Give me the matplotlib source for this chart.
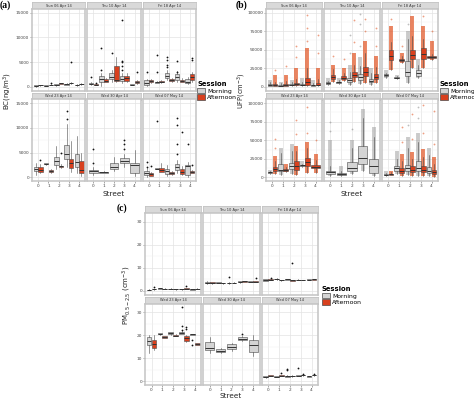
import matplotlib
matplotlib.use("Agg")
import matplotlib.pyplot as plt
from matplotlib.patches import Patch

W, H = 474, 399

days = ["Sun 06 Apr 14", "Thu 10 Apr 14", "Fri 18 Apr 14",
        "Wed 23 Apr 14", "Wed 30 Apr 14", "Wed 07 May 14"]
streets = [0, 1, 2, 3, 4]

# box stats per street: (whisker low, q1, median, q3, whisker high), None = no data
# ---- (a) BC ----
bc_morning = {
    "Sun 06 Apr 14": [(50, 100, 200, 300, 400), (100, 200, 250, 300, 450), (200, 300, 400, 500, 600),
                      (300, 400, 500, 600, 800), (200, 300, 350, 450, 600)],
    "Thu 10 Apr 14": [(400, 500, 600, 700, 900), (200, 1000, 1500, 2200, 2800), (1000, 1500, 2000, 2800, 3500),
                      (800, 1200, 1500, 2200, 2800), (300, 380, 450, 520, 600)],
    "Fri 18 Apr 14": [(100, 400, 800, 1400, 1600), (700, 800, 900, 1000, 1200), (1400, 1800, 2200, 2800, 3500),
                      (1000, 1400, 1900, 2600, 3200), (500, 700, 1000, 1500, 2000)],
    "Wed 23 Apr 14": [(400, 1200, 1600, 2000, 2800), (2500, 2600, 2700, 2800, 2900), (1600, 2400, 3300, 4200, 6300),
                      (2000, 3700, 4700, 6500, 10800), (800, 2000, 3100, 4800, 8300)],
    "Wed 30 Apr 14": [(400, 900, 1200, 1500, 2000), (850, 900, 1000, 1100, 1200), (1200, 1700, 2000, 2800, 4200),
                      (2000, 2800, 3300, 4000, 4800), (300, 800, 2400, 2800, 5600)],
    "Wed 07 May 14": [(100, 400, 800, 1200, 1800), (1650, 1700, 1750, 1800, 1850), (200, 700, 1200, 1700, 2500),
                      (800, 1400, 2000, 2700, 3500), (100, 400, 2200, 2500, 3000)],
}
bc_afternoon = {
    "Sun 06 Apr 14": [(250, 300, 350, 400, 450), (300, 350, 400, 450, 550), (500, 600, 700, 750, 850),
                      (600, 700, 800, 850, 950), (450, 500, 600, 650, 750)],
    "Thu 10 Apr 14": [(300, 350, 400, 500, 600), (900, 1000, 1200, 1500, 1700), (1000, 1200, 1400, 4200, 6000),
                      (900, 1100, 1700, 2200, 2700), (600, 800, 1000, 1200, 1400)],
    "Fri 18 Apr 14": [(800, 1000, 1200, 1400, 1600), (800, 900, 1000, 1100, 1300), (900, 1100, 1300, 1500, 1800),
                      (900, 1000, 1200, 1400, 1700), (1000, 1300, 2000, 2600, 3000)],
    "Wed 23 Apr 14": [(800, 1100, 1500, 2000, 2600), (900, 1000, 1200, 1500, 1700), (1800, 2000, 2200, 2300, 2600),
                      (1000, 1800, 2800, 3700, 7300), (300, 900, 1400, 3400, 5000)],
    "Wed 30 Apr 14": [None, None, None, None, None],
    "Wed 07 May 14": [(200, 300, 600, 800, 1000), (1000, 1000, 1500, 1900, 2900), (500, 600, 800, 1000, 1200),
                      (500, 600, 1100, 1700, 2300), (800, 900, 1100, 1300, 1500)],
}
bc_out_morning = {
    ("Thu 10 Apr 14", 0): [2000], ("Thu 10 Apr 14", 1): [3500, 7800], ("Thu 10 Apr 14", 2): [6800],
    ("Thu 10 Apr 14", 3): [3400, 4200, 5000, 5200, 13500],
    ("Fri 18 Apr 14", 0): [3000], ("Fri 18 Apr 14", 1): [3000, 6400],
    ("Fri 18 Apr 14", 2): [4000, 4500, 5500, 6000], ("Fri 18 Apr 14", 3): [3000, 5200],
    ("Wed 23 Apr 14", 3): [11800, 13400],
    ("Wed 30 Apr 14", 0): [2800, 5800], ("Wed 30 Apr 14", 3): [5800, 6800, 7500],
    ("Wed 07 May 14", 0): [2000, 3000], ("Wed 07 May 14", 1): [11400],
    ("Wed 07 May 14", 3): [4700, 6700, 10500, 12000], ("Wed 07 May 14", 4): [6700],
}
bc_out_afternoon = {
    ("Sun 06 Apr 14", 1): [800], ("Sun 06 Apr 14", 3): [5000],
    ("Thu 10 Apr 14", 0): [800], ("Thu 10 Apr 14", 4): [3000],
    ("Fri 18 Apr 14", 4): [5500, 5800],
    ("Wed 23 Apr 14", 0): [3500], ("Wed 23 Apr 14", 2): [5000],
    ("Wed 07 May 14", 0): [2300], ("Wed 07 May 14", 3): [9100], ("Wed 07 May 14", 4): [2400],
}

# ---- (b) UFP ----
ufp_morning = {
    "Sun 06 Apr 14": [(500, 1500, 2500, 3500, 6000), (500, 1000, 1500, 2500, 4500), (800, 2000, 2800, 3500, 6000),
                      (800, 2000, 3000, 4000, 7000), (500, 1500, 2200, 3000, 5500)],
    "Thu 10 Apr 14": [(2500, 4000, 5000, 6000, 8000), (4000, 5000, 6000, 7000, 9000), (3000, 6000, 9000, 12000, 20000),
                      (4000, 9000, 13000, 17000, 28000), (3000, 6000, 8000, 11000, 18000)],
    "Fri 18 Apr 14": [(12000, 14500, 15500, 17000, 19000), (11000, 12000, 12500, 13500, 14500),
                      (5000, 15000, 20000, 35000, 65000), (12000, 15000, 18000, 22000, 30000), None],
    "Wed 23 Apr 14": [(5000, 6000, 6500, 7000, 8000), (3000, 8000, 10000, 18000, 33000),
                      (5000, 11000, 15000, 19000, 35000), (14000, 15000, 16000, 17000, 18000), None],
    "Wed 30 Apr 14": [(2000, 5000, 7000, 9000, 15000), (2000, 3000, 4500, 6000, 8000), (4000, 9000, 12000, 21000, 40000),
                      (8000, 18000, 26000, 42000, 80000), (2000, 6000, 15000, 25000, 55000)],
    "Wed 07 May 14": [(2000, 3000, 3500, 4500, 6000), (4000, 8000, 12000, 15000, 25000), (3000, 9000, 12000, 16000, 40000),
                      (2000, 9000, 12000, 22000, 48000), (2000, 6000, 9000, 14000, 30000)],
}
ufp_afternoon = {
    "Sun 06 Apr 14": [(500, 1500, 2500, 3500, 7000), (500, 1500, 2500, 4000, 8000), (500, 2000, 3500, 5000, 10000),
                      (500, 3000, 6000, 12000, 25000), (500, 2000, 3000, 5000, 10000)],
    "Thu 10 Apr 14": [(6000, 10000, 13000, 16000, 24000), (8000, 11000, 12500, 14000, 18000),
                      (6000, 13000, 16000, 20000, 30000), (5000, 14000, 20000, 27000, 45000),
                      (5000, 10000, 13000, 17000, 27000)],
    "Fri 18 Apr 14": [(22000, 36000, 42000, 50000, 60000), (32000, 35000, 36500, 38000, 42000),
                      (25000, 38000, 43000, 50000, 68000), (25000, 38000, 44000, 52000, 65000),
                      (36000, 39000, 40000, 41000, 44000)],
    "Wed 23 Apr 14": [(4000, 8000, 11000, 14000, 22000), (7000, 8000, 9500, 11000, 14000),
                      (3000, 10000, 15000, 22000, 35000), (6000, 15000, 20000, 26000, 40000),
                      (6000, 12000, 14000, 17000, 24000)],
    "Wed 30 Apr 14": [None, None, None, None, None],
    "Wed 07 May 14": [(2500, 3500, 4000, 5000, 6500), (2000, 6000, 9000, 13000, 22000), (2000, 7000, 10000, 15000, 25000),
                      (2000, 7000, 10000, 15000, 28000), (1000, 4000, 7000, 10000, 18000)],
}
# top of the dense run of outliers above each whisker
ufp_dense_morning = {
    "Sun 06 Apr 14": [9000, 7000, 9000, 12000, 9000],
    "Thu 10 Apr 14": [12000, 12000, 30000, 40000, 25000],
    "Fri 18 Apr 14": [22000, 16000, 75000, 38000, None],
    "Wed 23 Apr 14": [10000, 40000, 45000, 22000, None],
    "Wed 30 Apr 14": [50000, 15000, 50000, 92000, 68000],
    "Wed 07 May 14": [8000, 35000, 55000, 60000, 40000],
}
ufp_dense_afternoon = {
    "Sun 06 Apr 14": [16000, 16000, 26000, 52000, 26000],
    "Thu 10 Apr 14": [30000, 26000, 46000, 62000, 42000],
    "Fri 18 Apr 14": [82000, 46000, 96000, 82000, 62000],
    "Wed 23 Apr 14": [29000, 18000, 42000, 48000, 32000],
    "Wed 30 Apr 14": [None, None, None, None, None],
    "Wed 07 May 14": [9000, 32000, 34000, 38000, 27000],
}
ufp_out_morning = {
    ("Thu 10 Apr 14", 2): [45000, 70000], ("Thu 10 Apr 14", 3): [55000, 85000, 98000],
    ("Fri 18 Apr 14", 2): [85000],
    ("Wed 30 Apr 14", 0): [62000, 75000], ("Wed 30 Apr 14", 2): [65000],
    ("Wed 07 May 14", 2): [70000], ("Wed 07 May 14", 3): [80000, 95000],
}
ufp_out_afternoon = {
    ("Sun 06 Apr 14", 0): [22000], ("Sun 06 Apr 14", 1): [28000], ("Sun 06 Apr 14", 2): [40000, 55000],
    ("Sun 06 Apr 14", 3): [62000, 80000, 97000], ("Sun 06 Apr 14", 4): [45000, 70000],
    ("Thu 10 Apr 14", 0): [42000], ("Thu 10 Apr 14", 1): [38000], ("Thu 10 Apr 14", 2): [60000, 90000],
    ("Thu 10 Apr 14", 3): [75000, 92000], ("Thu 10 Apr 14", 4): [55000, 80000],
    ("Fri 18 Apr 14", 0): [92000], ("Fri 18 Apr 14", 1): [55000], ("Fri 18 Apr 14", 3): [95000],
    ("Fri 18 Apr 14", 4): [75000],
    ("Wed 23 Apr 14", 0): [40000, 52000], ("Wed 23 Apr 14", 2): [58000, 78000],
    ("Wed 23 Apr 14", 3): [60000, 95000], ("Wed 23 Apr 14", 4): [50000],
    ("Wed 07 May 14", 1): [48000, 68000], ("Wed 07 May 14", 2): [52000, 85000],
    ("Wed 07 May 14", 3): [60000, 98000], ("Wed 07 May 14", 4): [45000, 90000],
}

# ---- (c) PM 0.5-2.5 ----
pm_morning = {
    "Sun 06 Apr 14": [(0.1, 0.2, 0.3, 0.4, 0.6), (0.8, 0.9, 1.0, 1.1, 1.2), (0.6, 0.7, 0.8, 0.9, 1.0),
                      (0.4, 0.5, 0.6, 0.7, 0.8), (0.3, 0.4, 0.5, 0.6, 0.7)],
    "Thu 10 Apr 14": [(3.0, 3.3, 3.5, 3.8, 4.0), (3.3, 3.4, 3.5, 3.6, 3.7), (3.0, 3.2, 3.3, 3.5, 3.7),
                      (3.5, 3.7, 3.8, 4.0, 4.2), (3.7, 3.8, 3.9, 4.0, 4.1)],
    "Fri 18 Apr 14": [(4.0, 4.2, 4.5, 4.9, 5.2), (4.7, 4.9, 5.0, 5.1, 5.3), (4.6, 4.8, 4.9, 5.0, 5.2),
                      (4.4, 4.5, 4.6, 4.7, 4.9), (4.6, 4.7, 4.8, 4.9, 5.0)],
    "Wed 23 Apr 14": [(12.0, 15.5, 17.5, 19.0, 20.0), (20.2, 20.3, 20.5, 20.7, 20.8), (20.0, 20.3, 20.7, 21.2, 21.5),
                      (20.3, 20.6, 21.0, 21.4, 21.8), (20.1, 20.2, 20.3, 20.4, 20.5)],
    "Wed 30 Apr 14": [(12.0, 13.5, 14.5, 17.0, 19.0), (12.0, 12.8, 13.2, 13.8, 14.5), (13.0, 13.8, 14.8, 16.0, 16.5),
                      (17.5, 18.0, 18.4, 19.0, 19.5), (11.0, 12.5, 15.8, 17.8, 20.0)],
    "Wed 07 May 14": [(1.5, 1.6, 1.8, 2.0, 2.1), (1.7, 1.8, 1.9, 2.0, 2.1), (1.8, 1.9, 2.1, 2.3, 2.5),
                      (2.0, 2.1, 2.3, 2.5, 2.7), (1.8, 1.9, 2.0, 2.1, 2.2)],
}
pm_afternoon = {
    "Sun 06 Apr 14": [(0.4, 0.5, 0.6, 0.7, 0.8), (0.6, 0.7, 0.8, 0.9, 1.0), (0.4, 0.5, 0.6, 0.7, 0.8),
                      (0.6, 0.8, 0.9, 1.0, 1.2), (0.6, 0.7, 0.8, 0.9, 1.0)],
    "Thu 10 Apr 14": [(3.0, 3.2, 3.4, 3.6, 3.8), (3.0, 3.1, 3.2, 3.3, 3.4), (3.1, 3.3, 3.4, 3.5, 3.7),
                      (3.7, 3.9, 4.0, 4.1, 4.3), (3.7, 3.8, 3.9, 4.0, 4.1)],
    "Fri 18 Apr 14": [(4.5, 4.7, 4.8, 4.9, 5.1), (4.2, 4.4, 4.5, 4.6, 4.8), (4.1, 4.3, 4.4, 4.5, 4.7),
                      (4.4, 4.5, 4.6, 4.7, 4.8), (4.7, 4.8, 4.9, 5.0, 5.1)],
    "Wed 23 Apr 14": [(13.5, 14.5, 16.0, 18.0, 20.0), (18.6, 18.8, 19.0, 19.4, 19.6), (19.4, 19.6, 19.8, 20.1, 20.3),
                      (17.0, 17.5, 18.5, 19.5, 20.0), (15.7, 15.8, 16.0, 16.4, 16.6)],
    "Wed 30 Apr 14": [None, None, None, None, None],
    "Wed 07 May 14": [(2.0, 2.1, 2.3, 2.5, 2.6), (2.2, 2.3, 2.4, 2.5, 2.6), (1.9, 2.0, 2.2, 2.4, 2.5),
                      (2.4, 2.5, 2.6, 2.7, 2.8), (2.4, 2.5, 2.6, 2.7, 2.8)],
}
pm_out_morning = {
    ("Thu 10 Apr 14", 2): [6.0],
    ("Wed 23 Apr 14", 3): [22.0, 24.0, 32.0], ("Wed 23 Apr 14", 4): [15.5, 18.0],
    ("Wed 30 Apr 14", 3): [20.5],
    ("Wed 07 May 14", 2): [4.6, 5.3], ("Wed 07 May 14", 3): [5.7],
}
pm_out_afternoon = {
    ("Sun 06 Apr 14", 0): [1.6], ("Sun 06 Apr 14", 3): [1.8],
    ("Thu 10 Apr 14", 4): [5.6],
    ("Fri 18 Apr 14", 0): [5.5], ("Fri 18 Apr 14", 2): [12.0],
    ("Wed 23 Apr 14", 3): [22.5, 23.5],
    ("Wed 07 May 14", 1): [3.3], ("Wed 07 May 14", 3): [3.0], ("Wed 07 May 14", 4): [3.0],
}

GREY = "#d4d4d4"
RED = "#d8401e"
EDGE = "#4a4a4a"


def fx(x):
    return x / W


def fy(y):
    return 1 - y / H


def draw_panel(fig, box, morning, afternoon, out_m, out_a, ylim, yticks, yminor,
               dense_m=None, dense_a=None, flier_m="#111111", flier_a="#111111", flier_alpha=1.0):
    left, right, top, bottom = box
    strip_h, gap = 7, 2
    cw = (right - left - 2 * gap) / 3
    rh = (bottom - top - gap) / 2
    for i, day in enumerate(days):
        r, c = divmod(i, 3)
        x0 = left + c * (cw + gap)
        y0 = top + r * (rh + gap)
        # facet strip
        sax = fig.add_axes([fx(x0), fy(y0 + strip_h), cw / W, strip_h / H])
        sax.set_facecolor("#d9d9d9")
        sax.set_xticks([])
        sax.set_yticks([])
        for sp in sax.spines.values():
            sp.set_color("#c4c4c4")
            sp.set_linewidth(0.6)
        sax.text(0.5, 0.5, day, ha="center", va="center", fontsize=2.6, color="#333333",
                 transform=sax.transAxes)

        ax = fig.add_axes([fx(x0), fy(y0 + rh), cw / W, (rh - strip_h) / H])
        ax.set_xlim(-0.6, 4.6)
        ax.set_ylim(*ylim)
        ax.set_xticks(streets)
        ax.set_yticks(yticks)
        ax.set_yticks(yminor, minor=True)
        ax.grid(which="major", color="#e3e3e3", linewidth=0.5)
        ax.grid(which="minor", axis="y", color="#f0f0f0", linewidth=0.3)
        ax.set_axisbelow(True)
        for sp in ax.spines.values():
            sp.set_color("#c4c4c4")
            sp.set_linewidth(1.1)

        for s in streets:
            m = morning[day][s]
            a = afternoon[day][s]
            both = m is not None and a is not None
            for st, col, outs, dense, fc in ((m, GREY, out_m, dense_m, flier_m),
                                             (a, RED, out_a, dense_a, flier_a)):
                if st is None:
                    continue
                if both:
                    pos = s - 0.225 if col == GREY else s + 0.225
                    wid = 0.43
                else:
                    pos, wid = s, 0.86
                if dense is not None and dense[day][s] is not None:
                    ax.vlines(pos, st[0], dense[day][s], colors=fc, linewidth=2.8,
                              alpha=0.45 if col == GREY else 0.7, zorder=1.5)
                stats = dict(whislo=st[0], q1=st[1], med=st[2], q3=st[3], whishi=st[4],
                             fliers=outs.get((day, s), []))
                ax.bxp([stats], positions=[pos], widths=[wid], patch_artist=True,
                       showcaps=False, manage_ticks=False,
                       boxprops=dict(facecolor=col, edgecolor=EDGE, linewidth=0.4),
                       medianprops=dict(color="#333333", linewidth=0.7),
                       whiskerprops=dict(color=EDGE, linewidth=0.4),
                       flierprops=dict(marker="o", markersize=1.3, markerfacecolor=fc,
                                       markeredgecolor="none", alpha=flier_alpha))

        ax.tick_params(which="both", length=1.2, width=0.4, color="#666666",
                       labelsize=3.1, labelcolor="#444444", pad=1)
        ax.tick_params(which="minor", length=0)
        if c != 0:
            ax.tick_params(axis="y", length=0, labelleft=False)
        if r != 1:
            ax.tick_params(axis="x", length=0, labelbottom=False)


def add_legend(fig, x, y):
    handles = [Patch(facecolor=GREY, edgecolor=EDGE, linewidth=0.5, label="Morning"),
               Patch(facecolor=RED, edgecolor=EDGE, linewidth=0.5, label="Afternoon")]
    leg = fig.legend(handles=handles, loc="upper left", bbox_to_anchor=(fx(x), fy(y)),
                     frameon=False, title="Session", fontsize=4.4, title_fontsize=4.9,
                     handlelength=1.3, handleheight=0.9, borderpad=0, borderaxespad=0,
                     handletextpad=0.35, labelspacing=0.15, alignment="left")
    leg.get_title().set_fontweight("bold")


fig = plt.figure(figsize=(W / 100, H / 100), dpi=100)
fig.patch.set_facecolor("white")

# (a) BC
draw_panel(fig, (32, 196, 2, 181), bc_morning, bc_afternoon, bc_out_morning, bc_out_afternoon,
           (-750, 15750), [0, 5000, 10000, 15000], [2500, 7500, 12500])
fig.text(fx(8), fy(91), "BC(ng/m$^3$)", rotation=90, ha="center", va="center", fontsize=5.0, color="#222222")
fig.text(fx(114), fy(194), "Street", ha="center", va="center", fontsize=5.2, color="#222222")
add_legend(fig, 197, 81)
fig.text(fx(0), fy(0), "(a)", ha="left", va="top", fontsize=7, fontweight="bold", family="Liberation Serif")

# (b) UFP
draw_panel(fig, (266, 438, 2, 181), ufp_morning, ufp_afternoon, ufp_out_morning, ufp_out_afternoon,
           (-5000, 105000), [0, 25000, 50000, 75000, 100000], [12500, 37500, 62500, 87500],
           dense_m=ufp_dense_morning, dense_a=ufp_dense_afternoon,
           flier_m="#8a8a8a", flier_a="#e0501e", flier_alpha=0.55)
fig.text(fx(242), fy(91), "UFP(cm$^{-3}$)", rotation=90, ha="center", va="center", fontsize=4.8, color="#222222")
fig.text(fx(352), fy(194), "Street", ha="center", va="center", fontsize=5.2, color="#222222")
add_legend(fig, 440, 81)
fig.text(fx(236), fy(0), "(b)", ha="left", va="top", fontsize=7, fontweight="bold", family="Liberation Serif")

# (c) PM 0.5-2.5
draw_panel(fig, (145, 318, 206, 385), pm_morning, pm_afternoon, pm_out_morning, pm_out_afternoon,
           (-1.7, 33.7), [0, 10, 20, 30], [5, 15, 25])
fig.text(fx(127), fy(295), "PM$_{0.5-2.5}$ (cm$^{-3}$)", rotation=90, ha="center", va="center",
         fontsize=5.0, color="#222222")
fig.text(fx(231), fy(396), "Street", ha="center", va="center", fontsize=5.2, color="#222222")
add_legend(fig, 322, 286)
fig.text(fx(117), fy(203), "(c)", ha="left", va="top", fontsize=7, fontweight="bold", family="Liberation Serif")

fig.savefig("out.png", dpi=100, facecolor="white")
